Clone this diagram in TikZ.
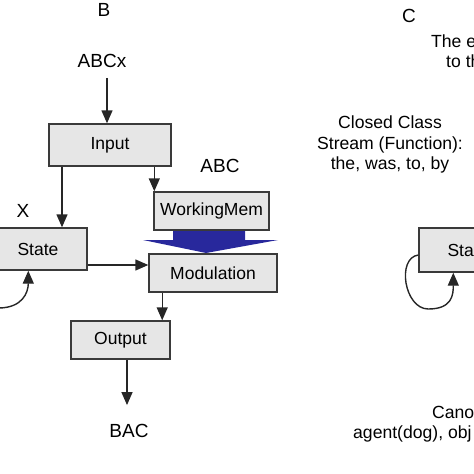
\documentclass[tikz,border=0pt]{standalone}
\usepackage{fontspec}
\setmainfont{Liberation Sans}
\usetikzlibrary{arrows.meta,calc}
\definecolor{boxgray}{HTML}{E6E6E6}
\definecolor{edgegray}{HTML}{3A3A3A}
\definecolor{modblue}{HTML}{28289C}

\begin{document}
\begin{tikzpicture}[x=1pt, y=-1pt,
  box/.style={draw=edgegray, line width=1.4pt, fill=boxgray, inner sep=0pt,
    font=\fontsize{17.5}{20}\selectfont},
  lbl/.style={inner sep=0pt, font=\fontsize{19}{22}\selectfont},
  ctext/.style={inner sep=0pt, font=\fontsize{17.6}{20.5}\selectfont},
  arr/.style={draw=black!85, line width=1.4pt, -{Triangle[length=13pt,width=11pt]}}]
  \useasboundingbox (0,0) rectangle (474,474);
  \clip (0,0) rectangle (474,474);

  % panel B
  \fill[modblue] (173,230) -- (245,230) -- (245,240) -- (278,240)
    -- (206,253) -- (143,240) -- (173,240) -- cycle;
  \node[box, minimum width=122pt, minimum height=42pt] (input) at (110,145) {Input};
  \node[box, minimum width=115pt, minimum height=38pt] (wmem) at (211.5,211) {WorkingMem};
  \node[box, minimum width=128pt, minimum height=38pt] (modul) at (213,273) {Modulation};
  \node[box, minimum width=98pt, minimum height=42pt] (stateB) at (38,249) {State};
  \node[box, minimum width=99pt, minimum height=38pt] (output) at (120.5,340) {Output};
  \node[lbl] (panelB) at (104,10) {B};
  \node[lbl] (abcx) at (102,61) {ABCx};
  \node[lbl] (abc) at (220,166) {ABC};
  \node[lbl] (xlbl) at (23,211) {X};
  \node[lbl] (bac) at (129,431) {BAC};

  \coordinate (inTop) at ([xshift=-3pt]input.north);
  \coordinate (sIn) at ([xshift=24pt]stateB.north);
  \coordinate (wIn) at ([xshift=1pt]wmem.north west);
  \coordinate (sOut) at ([yshift=-16pt]stateB.east);
  \coordinate (oIn) at ([xshift=-8.5pt]output.north east);
  \coordinate (bIn) at ([xshift=-2pt]bac.north);
  \draw[arr, shorten <=10pt] (abcx.south -| inTop) -- (inTop);
  \draw[arr] (input.south -| sIn) -- (sIn);
  \draw[arr] (input.south -| wIn) -- (wIn);
  \draw[arr] (sOut) -- (sOut -| modul.west);
  \draw[arr] (modul.south -| oIn) -- (oIn);
  \draw[arr, shorten >=19pt] (output.south -| bIn) -- (bIn);
  \draw[arr] ([yshift=-5pt]stateB.west) .. controls +(-22,3) and +(-24,0) .. ++(10,54)
    .. controls +(24,0) and +(0,22) .. ([xshift=40pt]stateB.south west);

  % panel C
  \node[box, minimum width=98pt, minimum height=44pt] (stateC) at (468,250) {State};
  \node[lbl] (panelC) at (409,16) {C};
  \node[ctext, anchor=base west] (event) at (431,47) {The e};
  \node[ctext, anchor=base west] (event2) at (446,67) {to th};
  \node[ctext, align=center, anchor=north] (closed) at (390,116)
    {Closed Class\\Stream (Function):\\the, was, to, by};
  \node[ctext, anchor=base west] (canon) at (432,418) {Cano};
  \node[ctext, anchor=base west] (roles) at (353,438) {agent(dog), obj};
  \draw[arr] ([yshift=-5pt]stateC.west) .. controls +(-22,3) and +(-24,0) .. ++(10,54)
    .. controls +(24,0) and +(0,22) .. ([xshift=35pt]stateC.south west);
\end{tikzpicture}
\end{document}
